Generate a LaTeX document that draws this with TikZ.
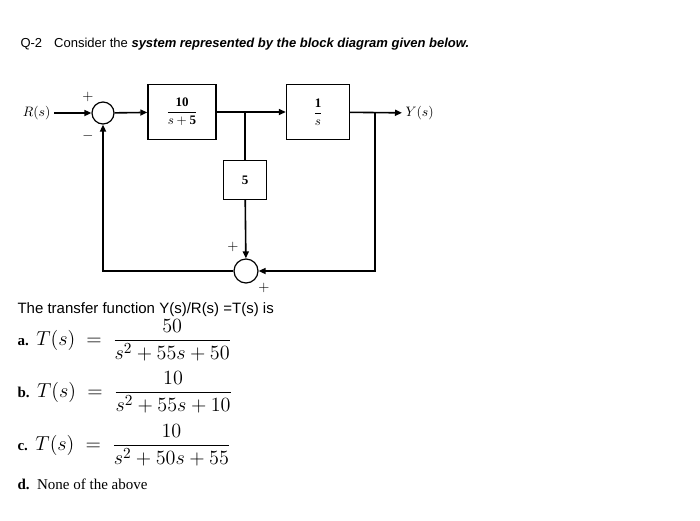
\documentclass[tikz,border=0pt]{standalone}
\usepackage{amsmath}
\usepackage{graphicx}
\usepackage{fontspec}
\setmainfont{Liberation Serif}
\newfontfamily\arial{Liberation Sans}
\usetikzlibrary{arrows.meta}
\begin{document}
\begin{tikzpicture}[x=1pt,y=-1pt,
  blk/.style={draw,line width=1.4pt,minimum width=#1,minimum height=55pt,inner sep=0pt},
  sumc/.style={draw,circle,line width=1.2pt,minimum size=22pt,inner sep=0pt},
  sig/.style={line width=1.6pt,-{Triangle[length=7pt,width=6pt]}},
  wire/.style={line width=1.6pt},
  lab/.style={font=\fontsize{11}{12}\selectfont},
  opt/.style={anchor=west,font=\fontsize{15}{17}\selectfont}]
\useasboundingbox[fill=white] (0,0) rectangle (700,520);
\node[anchor=west,font=\arial\fontsize{13}{15}\selectfont] (hd) at (17,44) {Q-2\hspace{12pt}Consider the \textbf{\textit{system represented by the block diagram given below.}}};
\node[lab,anchor=east] (R) at (54,113) {\scalebox{1.25}{$R(s)$}};
\node[sumc] (s1) at (103,113) {};
\node[blk=68pt] (b1) at (182,112) {\scalebox{1.3}{$\dfrac{\mathbf{10}}{s+\mathbf{5}}$}};
\node[blk=63pt] (b2) at (318,112) {\scalebox{1.3}{$\dfrac{\mathbf{1}}{s}$}};
\node[draw,line width=1.4pt,minimum width=43pt,minimum height=39pt] (b3) at (245,180) {\scalebox{1.3}{\textbf{5}}};
\node[sumc,minimum size=24pt] (s2) at (246,271) {};
\coordinate (j1) at (245,113);
\coordinate (j2) at (375,113);
\node[lab,anchor=west] (Y) at (402,113) {\scalebox{1.25}{$Y(s)$}};
\draw[sig] (R) -- (s1);
\draw[sig] (s1) -- (b1);
\draw[sig] (b1) -- (b2);
\draw[sig] (b2) -- (Y);
\draw[wire] (j1) -- (b3);
\draw[sig] (b3) -- (s2);
\draw[sig] (j2) |- (s2);
\draw[sig] (s2) -| (s1);
\node[lab] (p1) at (88,97) {\scalebox{1.3}{$+$}};
\node[lab] (m1) at (88,136) {\scalebox{1.3}{$-$}};
\node[lab] (p2) at (233,247) {\scalebox{1.3}{$+$}};
\node[lab] (p3) at (264,288) {\scalebox{1.3}{$+$}};
\node[anchor=west,font=\arial\fontsize{15}{17}\selectfont] (tf) at (14,310) {The transfer function Y(s)/R(s) =T(s) is};
\node[opt] (a) at (14,340) {\textbf{a.}\, \scalebox{1.4}{$T(s)\;=\;\dfrac{50}{s^2+55s+50}$}};
\node[opt] (b) at (14,392) {\textbf{b.}\, \scalebox{1.4}{$T(s)\;=\;\dfrac{10}{s^2+55s+10}$}};
\node[opt] (c) at (14,445) {\textbf{c.}\, \scalebox{1.4}{$T(s)\;=\;\dfrac{10}{s^2+50s+55}$}};
\node[opt] (d) at (14,484) {\textbf{d.}\, None of the above};
\end{tikzpicture}
\end{document}
